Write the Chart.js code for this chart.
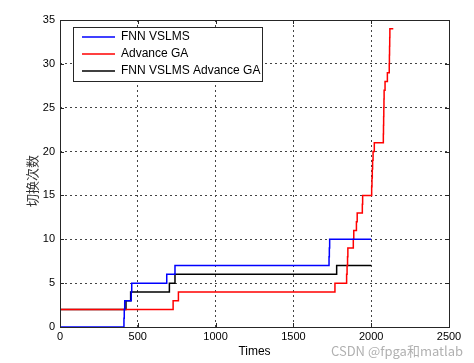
<!DOCTYPE html>
<html>
<head>
<meta charset="utf-8">
<script src="https://cdn.jsdelivr.net/npm/chart.js@4.4.0/dist/chart.umd.min.js"></script>
<style>
  html, body { margin: 0; padding: 0; background: #fff; }
</style>
</head>
<body>
<canvas id="switchChart" width="474" height="363"></canvas>
<script>
// step times and switch counts
var seriesNames = ["FNN VSLMS", "Advance GA", "FNN VSLMS Advance GA"];
var seriesColors = ["#0000ff", "#ff0000", "#000000"];

var fnnTimes  = [0, 411, 413, 416, 458, 461, 686, 739, 1729, 1731, 1733, 2000];
var fnnCounts = [0, 1, 2, 3, 4, 5, 6, 7, 8, 9, 10, 10];

var gaTimes  = [0, 0, 727, 761, 1767, 1842, 1845, 1848, 1850, 1885, 1888, 1905, 1910, 1943, 1945, 2003, 2005, 2007, 2009, 2012, 2020, 2078, 2079, 2080, 2081, 2082, 2083, 2089, 2104, 2116, 2117, 2118, 2119, 2120, 2142];
var gaCounts = [0, 2, 3, 4, 5, 6, 7, 8, 9, 10, 11, 12, 13, 14, 15, 16, 17, 18, 19, 20, 21, 22, 23, 24, 25, 26, 27, 28, 29, 30, 31, 32, 33, 34, 34];

var bothTimes  = [0, 0, 424, 454, 703, 739, 1778, 2000];
var bothCounts = [0, 2, 3, 4, 5, 6, 7, 7];

var xTicks = [0, 500, 1000, 1500, 2000, 2500];
var yTicks = [0, 5, 10, 15, 20, 25, 30, 35];

function toPoints(times, counts) {
    var pts = [];
    for (var i = 0; i < times.length; i++) {
        pts.push({x: times[i], y: counts[i]});
    }
    return pts;
}

var allSeries = [toPoints(fnnTimes, fnnCounts), toPoints(gaTimes, gaCounts), toPoints(bothTimes, bothCounts)];
// black drawn last, like the matlab plot order
var drawOrder = [1, 2, 3];

var datasets = allSeries.map(function (pts, i) {
    return {
        label: seriesNames[i],
        data: pts,
        borderColor: seriesColors[i],
        backgroundColor: seriesColors[i],
        borderWidth: 1.5,
        pointRadius: 0,
        stepped: true,
        fill: false,
        order: drawOrder[i]
    };
});

var matlabLook = {
    id: "matlabLook",
    afterDraw: function (chart) {
        var ctx = chart.ctx;
        var a = chart.chartArea;
        var xs = chart.scales.x, ys = chart.scales.y;
        ctx.save();
        ctx.setLineDash([]);
        ctx.strokeStyle = "#262626";
        ctx.lineWidth = 1;
        // inner tick marks
        ctx.beginPath();
        xTicks.forEach(function (v) {
            var px = Math.round(xs.getPixelForValue(v)) + 0.5;
            ctx.moveTo(px, a.bottom); ctx.lineTo(px, a.bottom - 4);
            ctx.moveTo(px, a.top); ctx.lineTo(px, a.top + 4);
        });
        yTicks.forEach(function (v) {
            var py = Math.round(ys.getPixelForValue(v)) + 0.5;
            ctx.moveTo(a.left, py); ctx.lineTo(a.left + 4, py);
            ctx.moveTo(a.right, py); ctx.lineTo(a.right - 4, py);
        });
        ctx.stroke();
        ctx.strokeRect(Math.round(a.left) + 0.5, Math.round(a.top) + 0.5, Math.round(a.right - a.left), Math.round(a.bottom - a.top));

        // y title
        ctx.fillStyle = "#333";
        ctx.font = "13px 'Noto Sans CJK SC'";
        ctx.textAlign = "center";
        ctx.textBaseline = "middle";
        ctx.translate(32, 181);
        ctx.rotate(-Math.PI / 2);
        ctx.fillText("切换次数", 0, 0);
        ctx.setTransform(1, 0, 0, 1, 0, 0);

        // legend box
        var lx = 73, ly = 27, lw = 189, lh = 54;
        ctx.fillStyle = "#fff";
        ctx.fillRect(lx, ly, lw, lh);
        ctx.strokeStyle = "#262626";
        ctx.strokeRect(lx + 0.5, ly + 0.5, lw, lh);
        ctx.font = "12px 'Liberation Sans', Arial, sans-serif";
        ctx.textAlign = "left";
        chart.data.datasets.forEach(function (ds, i) {
            var ry = 37 + i * 17;
            ctx.strokeStyle = ds.borderColor;
            ctx.lineWidth = 1.5;
            ctx.beginPath();
            ctx.moveTo(82, ry); ctx.lineTo(115, ry);
            ctx.stroke();
            ctx.fillStyle = "#000";
            ctx.fillText(ds.label, 121, ry);
        });

        // watermark
        ctx.font = "13px 'Noto Sans CJK SC', sans-serif";
        ctx.fillStyle = "rgba(150,150,150,0.75)";
        ctx.textAlign = "right";
        ctx.fillText("CSDN @fpga和matlab", 463, 351);
        ctx.restore();
    }
};

var tickFont = {family: "'Liberation Sans', Arial, sans-serif", size: 11};

new Chart(document.getElementById("switchChart"), {
    type: "line",
    data: {datasets: datasets},
    options: {
        responsive: false,
        animation: false,
        layout: {padding: {left: 0, top: 20, right: 25, bottom: 0}},
        plugins: {
            legend: {display: false},
            tooltip: {enabled: false}
        },
        scales: {
            x: {
                type: "linear",
                min: 0,
                max: 2500,
                afterBuildTicks: function (s) { s.ticks = xTicks.map(function (v) { return {value: v}; }); },
                afterFit: function (s) { s.height = 36; },
                ticks: {color: "#000", font: tickFont, padding: 3, maxRotation: 0, callback: function (v) { return String(v); }},
                grid: {color: "#444", lineWidth: 1, drawTicks: false},
                border: {display: false, dash: [2, 3]},
                title: {display: true, text: "Times", color: "#000", font: {family: "'Liberation Sans', Arial, sans-serif", size: 12}, padding: {top: 0, bottom: 4}}
            },
            y: {
                min: 0,
                max: 35,
                afterBuildTicks: function (s) { s.ticks = yTicks.map(function (v) { return {value: v}; }); },
                afterFit: function (s) { s.width = 60; },
                ticks: {color: "#000", font: tickFont, padding: 5, callback: function (v) { return String(v); }},
                grid: {color: "#444", lineWidth: 1, drawTicks: false},
                border: {display: false, dash: [2, 3]}
            }
        }
    },
    plugins: [matlabLook]
});
</script>
</body>
</html>
